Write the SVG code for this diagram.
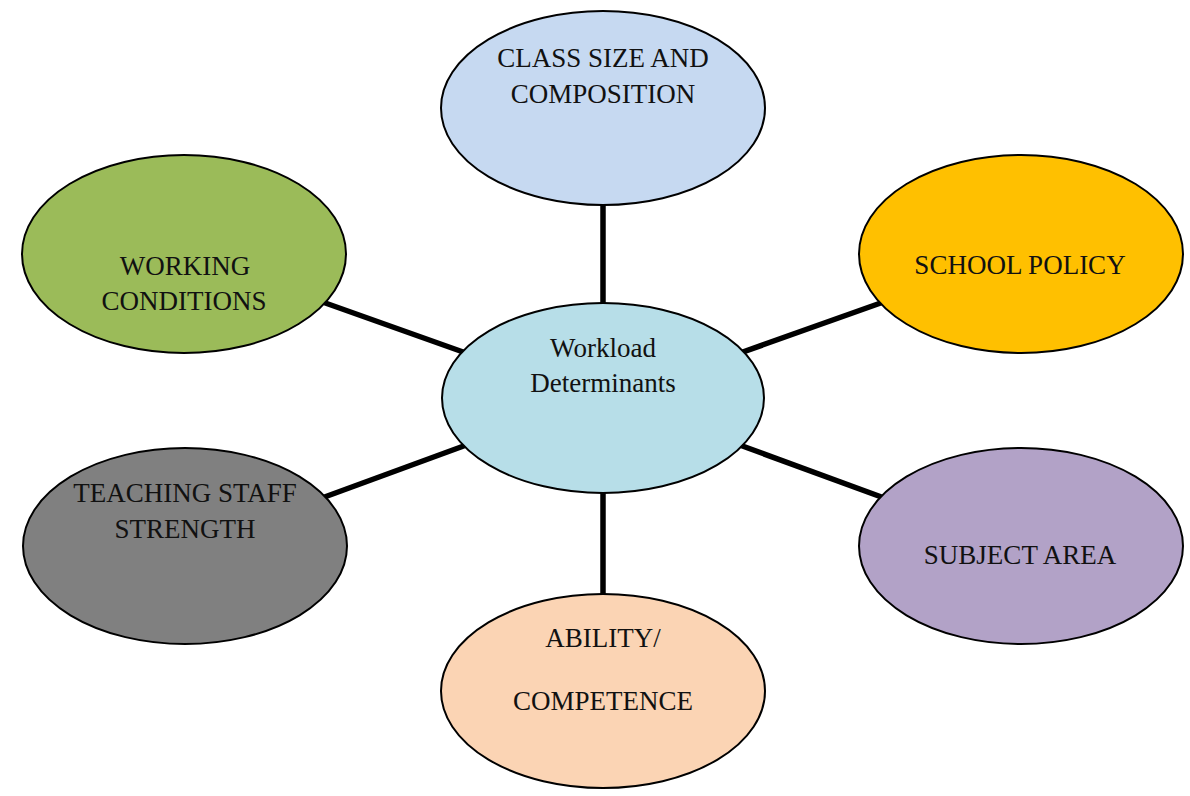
<svg xmlns="http://www.w3.org/2000/svg" width="1190" height="796" viewBox="0 0 1190 796">
<style>
.n{stroke:#000;stroke-width:2}
.t{font-family:"Liberation Serif","Times New Roman",serif;font-size:27px;fill:#111;text-anchor:middle}
.c{stroke:#000;stroke-width:5.5;fill:none}
</style>
<rect width="1190" height="796" fill="#fff"/>
<g id="connectors">
<line class="c" x1="603" y1="200" x2="603" y2="310"/>
<line class="c" x1="603" y1="485" x2="603" y2="600"/>
<line class="c" x1="300" y1="294" x2="480" y2="358"/>
<line class="c" x1="906" y1="294" x2="726" y2="358"/>
<line class="c" x1="300" y1="506" x2="480" y2="440"/>
<line class="c" x1="906" y1="506" x2="726" y2="440"/>
</g>
<g id="class-size">
<ellipse class="n" cx="603" cy="108" rx="162" ry="97" fill="#C6D9F1"/>
<text class="t" x="603" y="67">CLASS SIZE AND</text>
<text class="t" x="603" y="103">COMPOSITION</text>
</g>
<g id="working-conditions">
<ellipse class="n" cx="184" cy="254" rx="162" ry="99" fill="#9BBB59"/>
<text class="t" x="185" y="275">WORKING</text>
<text class="t" x="184" y="310">CONDITIONS</text>
</g>
<g id="school-policy">
<ellipse class="n" cx="1021" cy="254" rx="162" ry="99" fill="#FFC000"/>
<text class="t" x="1020" y="274">SCHOOL POLICY</text>
</g>
<g id="center">
<ellipse class="n" cx="603" cy="398" rx="161" ry="95" fill="#B7DEE8"/>
<text class="t" x="603" y="357">Workload</text>
<text class="t" x="603" y="392">Determinants</text>
</g>
<g id="teaching-staff">
<ellipse class="n" cx="185" cy="546" rx="162" ry="98" fill="#808080"/>
<text class="t" x="185" y="502">TEACHING STAFF</text>
<text class="t" x="185" y="538">STRENGTH</text>
</g>
<g id="subject-area">
<ellipse class="n" cx="1021" cy="546" rx="162" ry="98" fill="#B2A2C7"/>
<text class="t" x="1020" y="564">SUBJECT AREA</text>
</g>
<g id="ability">
<ellipse class="n" cx="603" cy="691" rx="162" ry="97" fill="#FBD4B4"/>
<text class="t" x="603" y="647">ABILITY/</text>
<text class="t" x="603" y="710">COMPETENCE</text>
</g>
</svg>
